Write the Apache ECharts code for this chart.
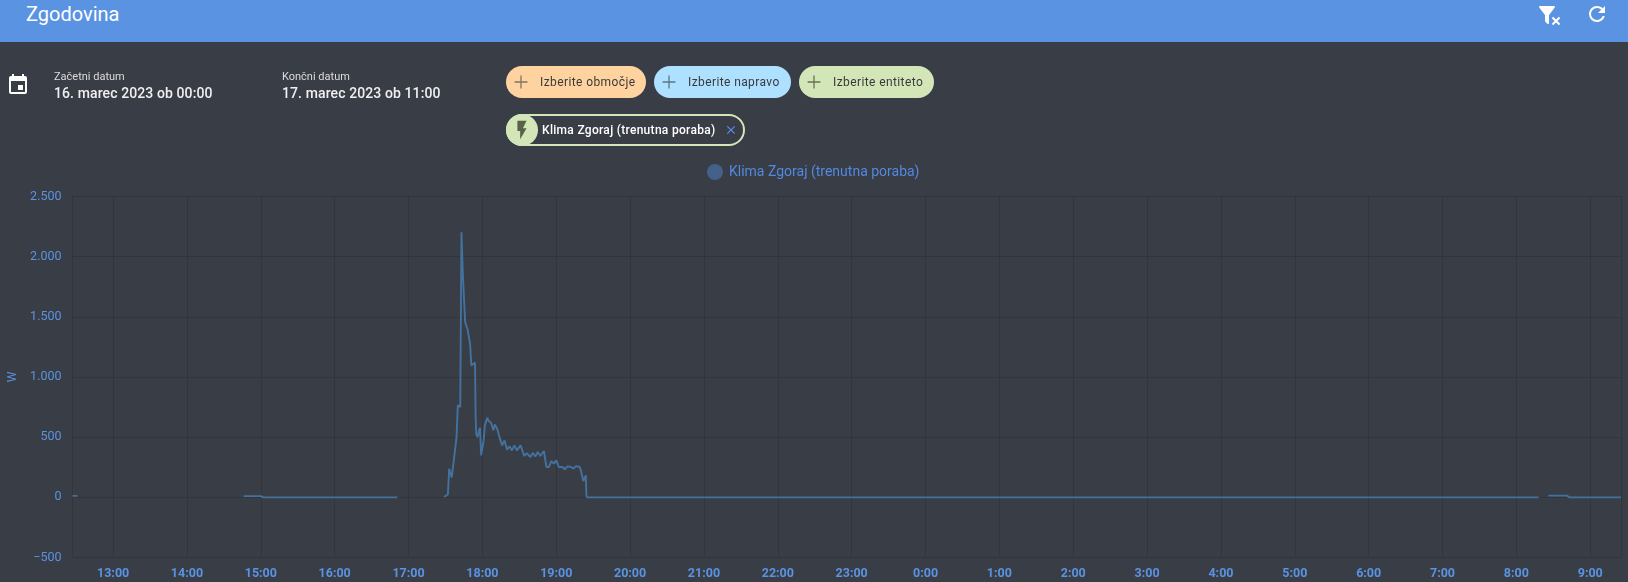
<!DOCTYPE html>
<html lang="sl">
<head>
<meta charset="UTF-8">
<title>Zgodovina</title>
<script src="https://cdn.jsdelivr.net/npm/echarts@6/dist/echarts.min.js"></script>
<style>
  html, body { margin: 0; padding: 0; width: 1628px; height: 582px; overflow: hidden; background: #393d46; font-family: Roboto, sans-serif; }
  #main { position: absolute; left: 0; top: 0; width: 1628px; height: 582px; }
  .ui { position: absolute; white-space: nowrap; }
  #bar { left: 0; top: 0; width: 1628px; height: 42px; background: #5a93e2; }
  #title { left: 26px; top: 2px; font-size: 20px; line-height: 25px; color: #fff; }
  .lbl { top: 70px; font-size: 11px; line-height: 14px; color: #dcdcdc; }
  .val { top: 84px; font-size: 14px; line-height: 18px; font-weight: 500; color: #f0f0f0; letter-spacing: .1px; }
  .chip { top: 66px; height: 32px; border-radius: 16px; font-size: 12px; line-height: 32px; color: #3a3a3a; letter-spacing: .4px; }
  .chip span { position: absolute; }
  .chip svg { position: absolute; left: 4px; top: 5px; }
  #sel { left: 506px; top: 114px; width: 235px; height: 28px; border: 2px solid #d2e6b8; border-radius: 16px; }
  #selIcon { left: 506px; top: 114px; width: 32px; height: 32px; border-radius: 16px; background: #d2e6b8; }
  #selText { left: 542px; top: 114px; font-size: 12px; line-height: 32px; font-weight: 500; color: #fff; letter-spacing: .3px; }
</style>
</head>
<body>
<div id="main"></div>
<div class="ui" id="bar"></div>
<div class="ui" id="title">Zgodovina</div>
<svg class="ui" style="left:1537px;top:3px" width="24" height="24" viewBox="0 0 24 24" fill="#fff"><path d="M14.76,20.83L17.6,18L14.76,15.17L16.17,13.76L19,16.57L21.83,13.76L23.24,15.17L20.41,18L23.24,20.83L21.83,22.24L19,19.4L16.17,22.24L14.76,20.83M12,12V19.88C12.04,20.18 11.94,20.5 11.71,20.71C11.32,21.1 10.69,21.1 10.3,20.71L8.29,18.7C8.06,18.47 7.96,18.16 8,17.87V12H7.97L2.21,4.62C1.87,4.19 1.95,3.56 2.38,3.22C2.57,3.08 2.78,3 3,3H17C17.22,3 17.43,3.08 17.62,3.22C18.05,3.56 18.13,4.19 17.79,4.62L12.03,12H12Z"/></svg>
<svg class="ui" style="left:1585px;top:2px" width="24" height="24" viewBox="0 0 24 24" fill="#fff"><path d="M17.65,6.35C16.2,4.9 14.21,4 12,4A8,8 0 0,0 4,12A8,8 0 0,0 12,20C15.73,20 18.84,17.45 19.73,14H17.65C16.83,16.33 14.61,18 12,18A6,6 0 0,1 6,12A6,6 0 0,1 12,6C13.66,6 15.14,6.69 16.22,7.78L13,11H20V4L17.65,6.35Z"/></svg>

<svg class="ui" style="left:6px;top:73px" width="24" height="24" viewBox="0 0 24 24" fill="#fff"><path d="M19,19H5V8H19M16,1V3H8V1H6V3H5C3.89,3 3,3.89 3,5V19A2,2 0 0,0 5,21H19A2,2 0 0,0 21,19V5C21,3.89 20.1,3 19,3H18V1M17,12H12V17H17V12Z"/></svg>
<div class="ui lbl" style="left:54px">Začetni datum</div>
<div class="ui val" style="left:54px">16. marec 2023 ob 00:00</div>
<div class="ui lbl" style="left:282px">Končni datum</div>
<div class="ui val" style="left:282px">17. marec 2023 ob 11:00</div>

<div class="ui chip" style="left:506px;width:140px;background:#ffd3a0">
  <svg width="22" height="22" viewBox="0 0 24 24" fill="#7d7565"><path d="M19,12.7H12.7V19H11.3V12.7H5V11.3H11.3V5H12.7V11.3H19V12.7Z"/></svg><span style="left:34px">Izberite območje</span>
</div>
<div class="ui chip" style="left:654px;width:137px;background:#aee0ff">
  <svg width="22" height="22" viewBox="0 0 24 24" fill="#5f7480"><path d="M19,12.7H12.7V19H11.3V12.7H5V11.3H11.3V5H12.7V11.3H19V12.7Z"/></svg><span style="left:34px">Izberite napravo</span>
</div>
<div class="ui chip" style="left:799px;width:135px;background:#d2e6b8">
  <svg width="22" height="22" viewBox="0 0 24 24" fill="#667058"><path d="M19,12.7H12.7V19H11.3V12.7H5V11.3H11.3V5H12.7V11.3H19V12.7Z"/></svg><span style="left:34px">Izberite entiteto</span>
</div>

<div class="ui" id="sel"></div>
<div class="ui" id="selIcon"><svg style="position:absolute;left:5px;top:5px" width="22" height="22" viewBox="0 0 24 24" fill="#5a6148"><path d="M7,2V13H10V22L17,10H13L17,2H7Z"/></svg></div>
<div class="ui" id="selText">Klima Zgoraj (trenutna poraba)</div>
<svg class="ui" style="left:724px;top:123px" width="14" height="14" viewBox="0 0 24 24" fill="#5a93e2"><path d="M19,6.41L17.59,5L12,10.59L6.41,5L5,6.41L10.59,12L5,17.59L6.41,19L12,13.41L17.59,19L19,17.59L13.41,12L19,6.41Z"/></svg>

<script>
    const seriesName = 'Klima Zgoraj (trenutna poraba)';
    const yTicks = { min: -500, max: 2500, step: 500 };
    const axisStart = '2023-03-16 12:27';
    const axisEnd = '2023-03-17 09:25';

    // Times and watts, null = gap in the recording
    const times = [
        '2023-03-16 12:27', '2023-03-16 12:31', '2023-03-16 12:32',
        '2023-03-16 14:46', '2023-03-16 15:00', '2023-03-16 15:02', '2023-03-16 15:10', '2023-03-16 16:20', '2023-03-16 16:51', '2023-03-16 16:52',
        '2023-03-16 17:29', '2023-03-16 17:32', '2023-03-16 17:33', '2023-03-16 17:34', '2023-03-16 17:35', '2023-03-16 17:36', '2023-03-16 17:39',
        '2023-03-16 17:40', '2023-03-16 17:41', '2023-03-16 17:42', '2023-03-16 17:43', '2023-03-16 17:43:30', '2023-03-16 17:44', '2023-03-16 17:45',
        '2023-03-16 17:46', '2023-03-16 17:47', '2023-03-16 17:48', '2023-03-16 17:49', '2023-03-16 17:50', '2023-03-16 17:51', '2023-03-16 17:52',
        '2023-03-16 17:54', '2023-03-16 17:54:30', '2023-03-16 17:55', '2023-03-16 17:56', '2023-03-16 17:57', '2023-03-16 17:58', '2023-03-16 17:59',
        '2023-03-16 18:00', '2023-03-16 18:01', '2023-03-16 18:02', '2023-03-16 18:04', '2023-03-16 18:05', '2023-03-16 18:07', '2023-03-16 18:09',
        '2023-03-16 18:10', '2023-03-16 18:12', '2023-03-16 18:14', '2023-03-16 18:16', '2023-03-16 18:18', '2023-03-16 18:20', '2023-03-16 18:22',
        '2023-03-16 18:24', '2023-03-16 18:26', '2023-03-16 18:28', '2023-03-16 18:31', '2023-03-16 18:34', '2023-03-16 18:36', '2023-03-16 18:39',
        '2023-03-16 18:41', '2023-03-16 18:43', '2023-03-16 18:45', '2023-03-16 18:47', '2023-03-16 18:50', '2023-03-16 18:52', '2023-03-16 18:54',
        '2023-03-16 18:56', '2023-03-16 18:58', '2023-03-16 19:00', '2023-03-16 19:02', '2023-03-16 19:05', '2023-03-16 19:07', '2023-03-16 19:09',
        '2023-03-16 19:12', '2023-03-16 19:14', '2023-03-16 19:16', '2023-03-16 19:19', '2023-03-16 19:20', '2023-03-16 19:22', '2023-03-16 19:23',
        '2023-03-16 19:24', '2023-03-16 19:24:30', '2023-03-16 19:25', '2023-03-16 19:30', '2023-03-16 21:00', '2023-03-16 23:00', '2023-03-17 01:00',
        '2023-03-17 03:00', '2023-03-17 05:00', '2023-03-17 07:00', '2023-03-17 08:18', '2023-03-17 08:19',
        '2023-03-17 08:26', '2023-03-17 08:41', '2023-03-17 08:43', '2023-03-17 08:50', '2023-03-17 09:25'
    ];
    const watts = [
        12, 12, null,
        10, 10, 0, 0, 0, 0, null,
        2, 25, 238, 238, 164, 238, 500,
        764, 778, 750, 2203, 2052, 1885, 1664,
        1456, 1470, 1392, 1401, 1276, 1096, 1105,
        1121, 667, 529, 500, 509, 579, 349,
        349, 473, 598, 662, 634, 620, 556,
        606, 570, 496, 432, 473, 396, 424,
        390, 432, 390, 432, 343, 368, 335,
        371, 340, 376, 343, 385, 252, 252,
        301, 280, 307, 252, 252, 233, 257,
        252, 238, 260, 252, 224, 135, 133,
        183, 17, 0, 0, 0, 0, 0,
        0, 0, 0, 0, null,
        14, 14, 0, 0, 0
    ];

    const textBlue = '#5a93e2';
    const gridColor = '#32353d';
    const myChart = echarts.init(document.getElementById('main'));

    function thousands(v) {
        const s = String(Math.abs(v)).replace(/\B(?=(\d{3})+$)/g, '.');
        return v < 0 ? '\u2212' + s : s;
    }

    const option = {
        animation: false,
        textStyle: { fontFamily: 'Roboto' },
        legend: {
            left: 707,
            top: 164,
            padding: 0,
            icon: 'circle',
            itemWidth: 16,
            itemHeight: 16,
            textStyle: { color: '#5289e0', fontSize: 14, fontFamily: 'Roboto', padding: [0, 0, 0, 1] },
            data: [seriesName]
        },
        grid: { left: 72.5, right: 7, top: 196.5, bottom: 24.5, outerBoundsMode: 'none' },
        xAxis: {
            type: 'time',
            min: axisStart,
            max: axisEnd,
            minInterval: 3600000,
            maxInterval: 3600000,
            axisTick: { show: false },
            axisLine: { lineStyle: { color: gridColor, width: 1 } },
            splitLine: { show: true, lineStyle: { color: gridColor, width: 1 } },
            axisLabel: {
                color: textBlue,
                fontSize: 12.5,
                fontWeight: 700,
                fontFamily: 'Roboto',
                margin: 10,
                showMinLabel: false,
                showMaxLabel: false,
                hideOverlap: false,
                formatter: function (v) {
                    const d = new Date(v);
                    return d.getHours() + ':' + String(d.getMinutes()).padStart(2, '0');
                }
            }
        },
        yAxis: {
            type: 'value',
            min: yTicks.min,
            max: yTicks.max,
            interval: yTicks.step,
            name: 'W',
            nameLocation: 'middle',
            nameGap: 48,
            nameTextStyle: { color: textBlue, fontSize: 12, fontFamily: 'Roboto' },
            axisTick: { show: false },
            axisLine: { show: true, lineStyle: { color: gridColor, width: 1 } },
            splitLine: { show: true, lineStyle: { color: gridColor, width: 1 } },
            axisLabel: {
                color: textBlue,
                fontSize: 12.5,
                fontFamily: 'Roboto',
                margin: 11,
                formatter: thousands
            }
        },
        series: [{
            name: seriesName,
            type: 'line',
            showSymbol: false,
            connectNulls: false,
            itemStyle: { color: '#44618a' },
            lineStyle: { color: '#44729f', width: 1.9 },
            data: times.map(function (t, i) {
                return [t, watts[i]];
            })
        }]
    };
    myChart.setOption(option);
</script>
</body>
</html>
